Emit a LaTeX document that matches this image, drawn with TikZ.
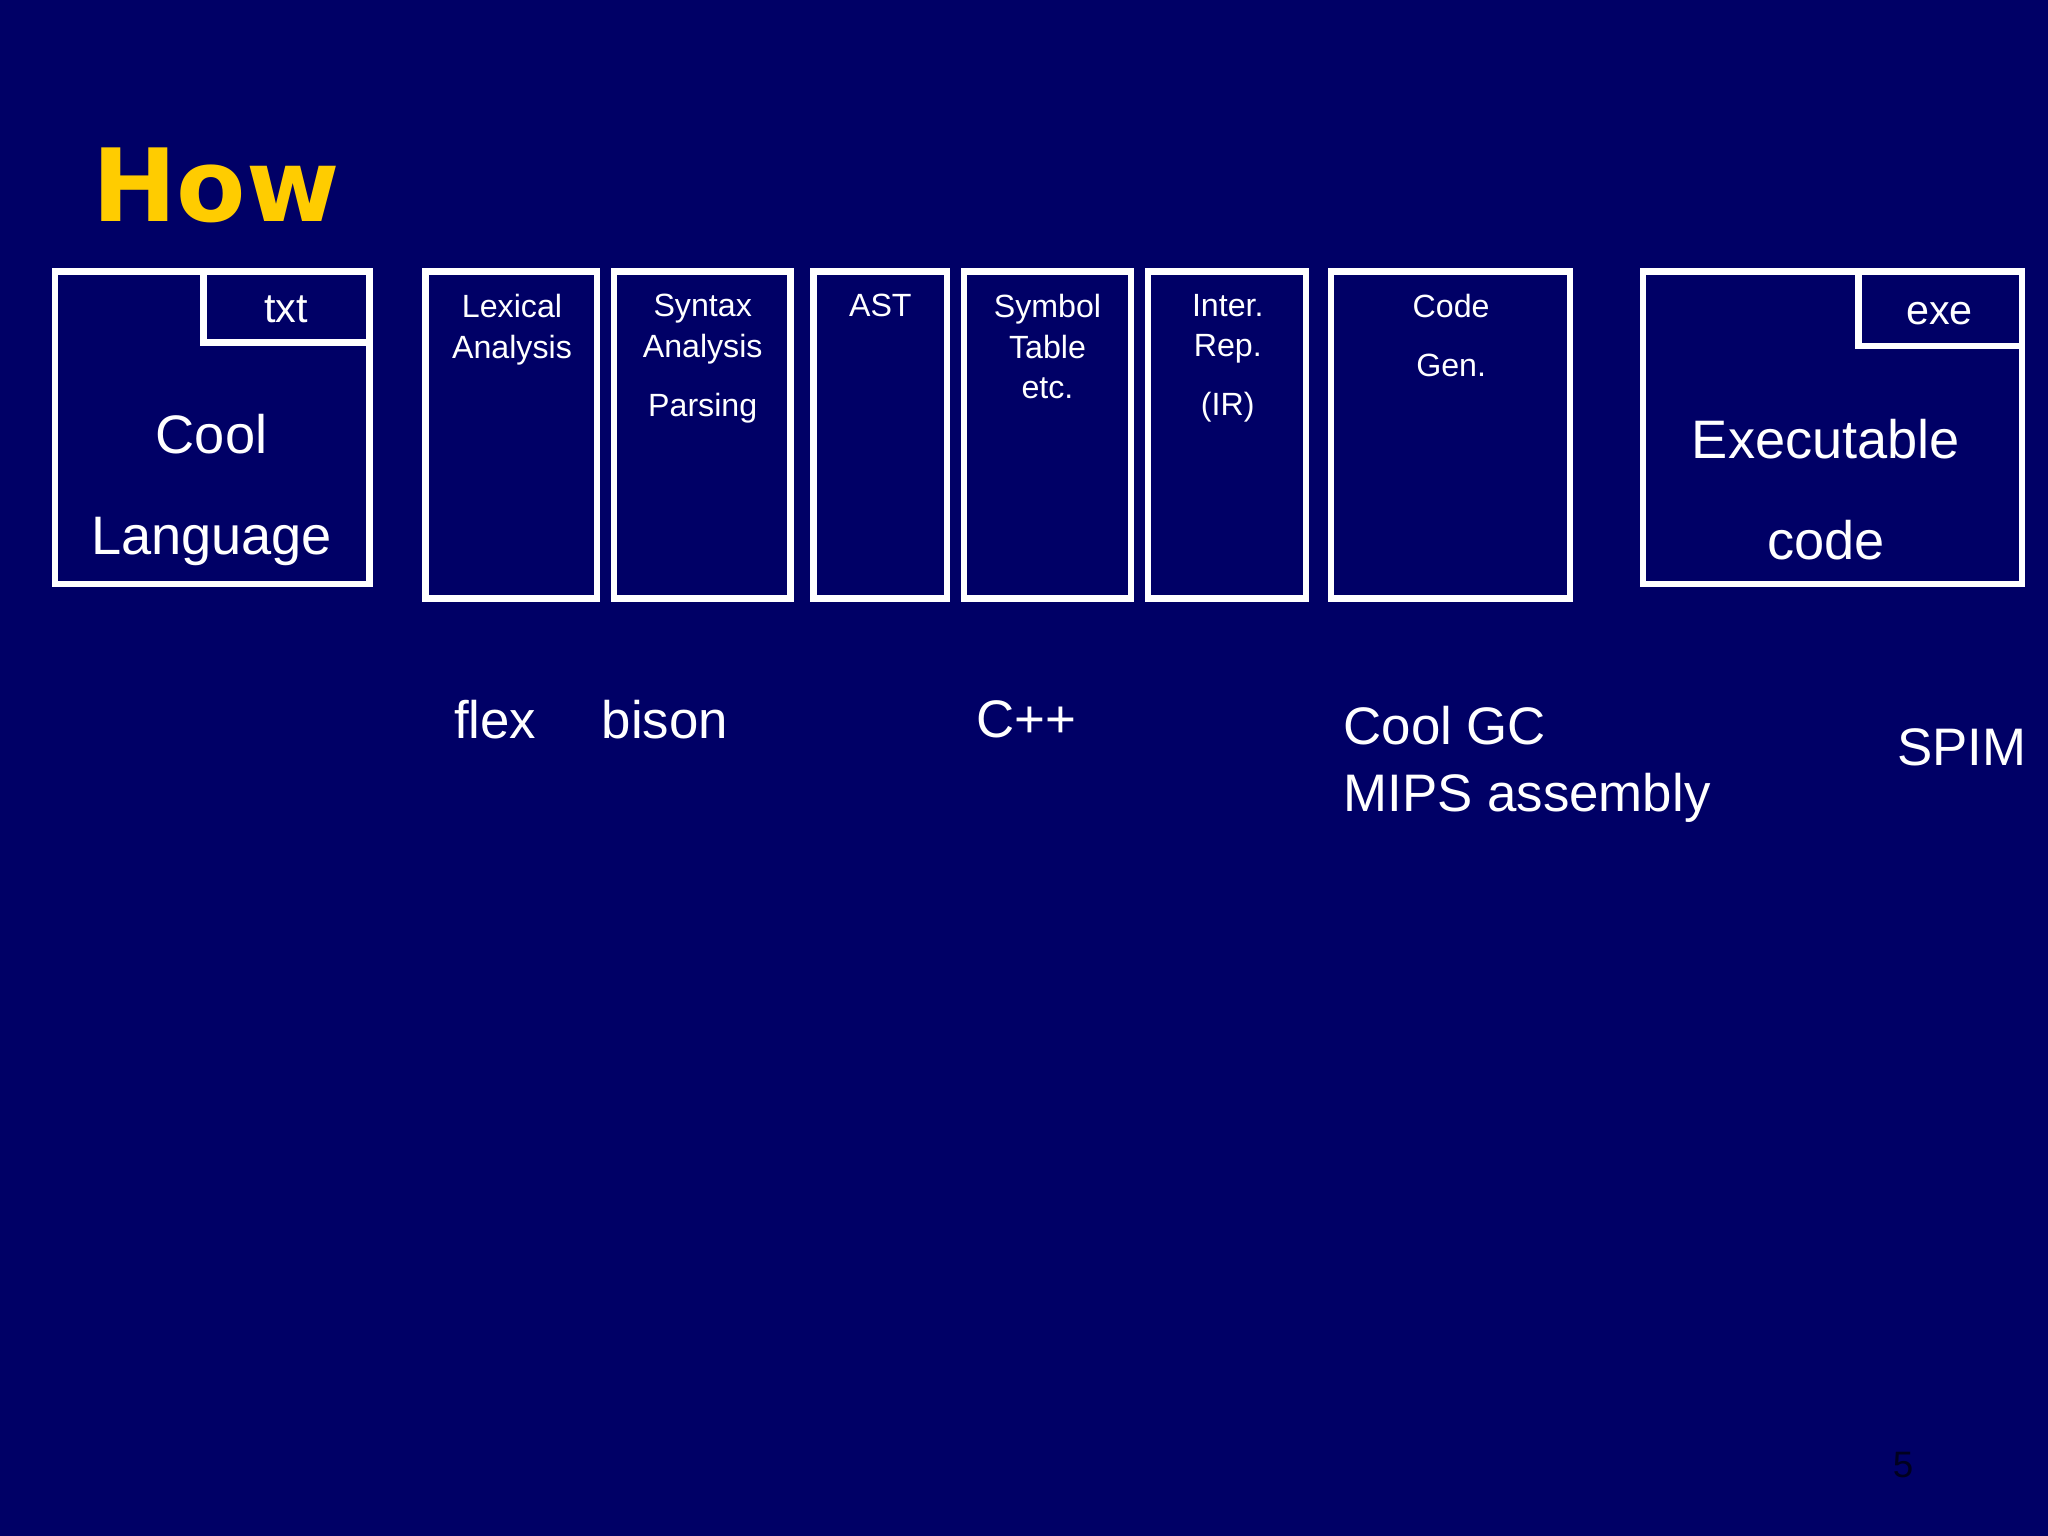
\documentclass[tikz,border=0pt]{standalone}
\usepackage{fontspec}
\setmainfont{Liberation Sans}
\newfontfamily\titlefont{DejaVu Sans}
\definecolor{bg}{HTML}{000066}
\definecolor{ttl}{HTML}{FFCC00}
\begin{document}
\begin{tikzpicture}[x=0.01cm,y=-0.01cm,
  box/.style={draw=white,line width=1.45pt},
  sm/.style={text=white,font=\fontsize{7}{8.8}\selectfont,align=center},
  lg/.style={text=white,font=\fontsize{11.8}{22}\selectfont,align=center},
  lab/.style={text=white,font=\fontsize{11.5}{14.5}\selectfont,align=left,anchor=west,inner sep=0pt}]
\fill[bg] (0,0) rectangle (1568,1176);
\useasboundingbox (0,0) rectangle (1568,1176);
\node[anchor=west,inner sep=0pt,text=ttl,font=\titlefont\bfseries\fontsize{22}{26}\selectfont] (how) at (70,142) {How};
\draw[box] (42,208) rectangle (283,447);
\draw[box] (156,208) rectangle (283,262);
\node[sm,font=\fontsize{9}{10}\selectfont] (txt) at (219,237) {txt};
\node[lg] (cool) at (162,375) {Cool\\Language};
\draw[box] (326,208) rectangle (457,458);
\node[sm,anchor=north] (lex) at (392,213) {Lexical\\Analysis};
\draw[box] (470,208) rectangle (605,458);
\node[sm,anchor=north] (syn) at (538,213) {Syntax\\Analysis\\[4pt]Parsing};
\draw[box] (623,208) rectangle (725,458);
\node[sm,anchor=north] (ast) at (674,213) {AST};
\draw[box] (738,208) rectangle (866,458);
\node[sm,anchor=north] (sym) at (802,213) {Symbol\\Table\\etc.};
\draw[box] (879,208) rectangle (1000,458);
\node[sm,anchor=north] (ir) at (940,213) {Inter.\\Rep.\\[4pt](IR)};
\draw[box] (1019,208) rectangle (1202,458);
\node[sm,anchor=north] (cg) at (1111,213) {Code\\[4pt]Gen.};
\draw[box] (1258,208) rectangle (1548,447);
\draw[box] (1423,208) rectangle (1548,265);
\node[sm,font=\fontsize{9}{10}\selectfont] (exe) at (1485,240) {exe};
\node[lg] (ex) at (1398,375) {Executable\\code};
\node[lab] (flex) at (347,551) {flex};
\node[lab] (bison) at (460,551) {bison};
\node[lab] (cpp) at (747,551) {C++};
\node[lab] (gc) at (1028,585) {Cool GC\\MIPS assembly};
\node[lab] (spim) at (1452,572) {SPIM};
\node[text=black!70!bg,font=\fontsize{8}{10}\selectfont] (pg) at (1457,1122) {5};
\end{tikzpicture}
\end{document}
